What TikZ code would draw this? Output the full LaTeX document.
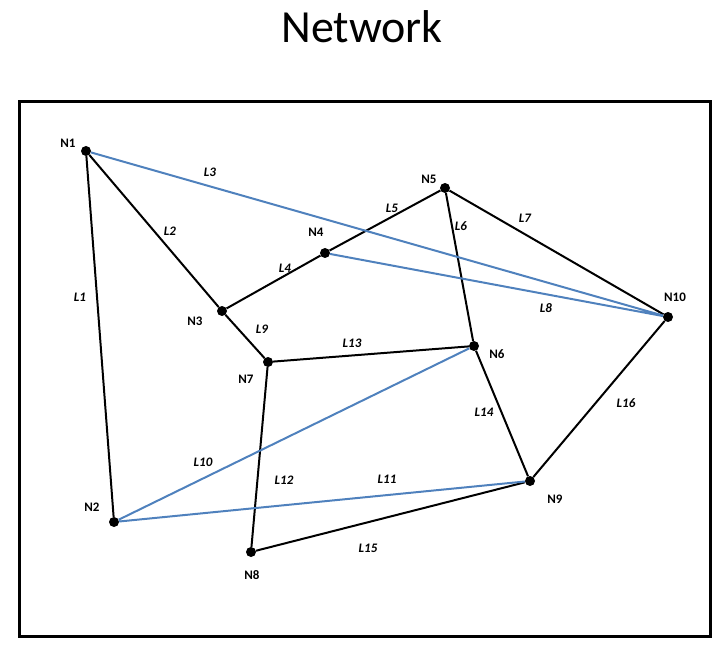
\documentclass[tikz,border=0pt]{standalone}
\usepackage{fontspec}
\setmainfont{Carlito}
\begin{document}
\begin{tikzpicture}[x=1pt,y=-1pt,
  dot/.style={circle,fill=black,inner sep=0pt,minimum size=10pt},
  blk/.style={line width=2pt,black},
  blu/.style={line width=2pt,color={rgb,255:red,79;green,129;blue,189}},
  lab/.style={font=\fontsize{13}{13}\selectfont\bfseries\itshape},
  nl/.style={font=\fontsize{13}{13}\selectfont\bfseries}]
\useasboundingbox (0,0) rectangle (728,660);
\node[font=\fontsize{46}{46}\selectfont] (title) at (362,27) {Network};
\draw[line width=3pt] (19,102) rectangle (710,636);
\node[dot] (N1) at (86,151) {};
\node[dot] (N2) at (114,522) {};
\node[dot] (N3) at (222,311) {};
\node[dot] (N4) at (325,253) {};
\node[dot] (N5) at (445,188) {};
\node[dot] (N6) at (474,346) {};
\node[dot] (N7) at (268,362) {};
\node[dot] (N8) at (251,552) {};
\node[dot] (N9) at (530,481) {};
\node[dot] (N10) at (668,317) {};
\draw[blk] (N1)--(N2) (N1)--(N3) (N3)--(N4) (N4)--(N5) (N5)--(N6) (N5)--(N10)
 (N3)--(N7) (N7)--(N6) (N7)--(N8) (N6)--(N9) (N8)--(N9) (N9)--(N10);
\draw[blu] (N1)--(N10) (N4)--(N10) (N2)--(N6) (N2)--(N9);
\foreach \t/\x/\y in {L1/80/297,L2/170/231,L3/210/172,L4/285/268,L5/392/208,L6/461/226,L7/525/218,L8/546/308,L9/262/329,L10/203/462,L11/387/479,L12/284/480,L13/352/343,L14/484/412,L15/368/548,L16/626/403}
  \node[lab] (lab\t) at (\x,\y) {\t};
\foreach \t/\x/\y in {N1/68/143,N2/92/507,N3/195/321,N4/316/232,N5/429/179,N6/497/354,N7/246/379,N8/252/575,N9/555/499,N10/675/297}
  \node[nl] (txt\t) at (\x,\y) {\t};
\end{tikzpicture}
\end{document}
